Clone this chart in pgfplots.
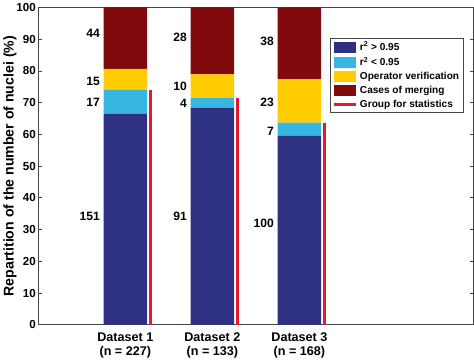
\documentclass[border=0pt]{standalone}
\usepackage{pgfplots}
\pgfplotsset{compat=1.18}
\usepackage{fontspec}
\setmainfont{Liberation Sans}
\definecolor{cdb}{RGB}{46,49,130}
\definecolor{clb}{RGB}{56,182,226}
\definecolor{cye}{RGB}{255,204,0}
\definecolor{cdr}{RGB}{128,10,12}
\definecolor{cred}{RGB}{228,25,45}
\definecolor{caxis}{RGB}{70,70,70}
\pgfplotsset{
  barleg/.style={legend image code/.code={\fill[##1] (0pt,-5.5pt) rectangle (22pt,5.5pt);}},
}
\begin{document}
\begin{tikzpicture}
\begin{axis}[
  scale only axis, width=432pt, height=315pt,
  xmin=0, xmax=5, ymin=0, ymax=100,
  ybar stacked, bar width=0.5,
  xtick={1,2,3},
  xticklabels={{Dataset 1\\(n = 227)},{Dataset 2\\(n = 133)},{Dataset 3\\(n = 168)}},
  xticklabel style={align=center, font=\bfseries\fontsize{12.5}{14}\selectfont, yshift=-4pt},
  x tick style={draw=none},
  ytick={0,10,...,100},
  ytick pos=both, yticklabel pos=left,
  tick align=inside, major tick length=4pt,
  y tick style={caxis, line width=0.8pt},
  yticklabel style={font=\bfseries\fontsize{11.5}{13}\selectfont, xshift=1pt},
  /pgf/number format/assume math mode=true,
  axis line style={caxis, line width=0.9pt},
  ylabel={Repartition of the number of nuclei (\%)},
  ylabel style={font=\bfseries\fontsize{14}{16}\selectfont, yshift=-7pt},
  legend style={at={(0.977,0.905)}, anchor=north east, draw=caxis, line width=0.8pt,
    font=\bfseries\fontsize{10}{12}\selectfont, row sep=1pt, inner sep=2pt,
    cells={anchor=west}},
]
\addplot[fill=cdb, draw=none, barleg] coordinates {(1,66.52) (2,68.42) (3,59.52)};
\addlegendentry{r\textsuperscript{2} > 0.95}
\addplot[fill=clb, draw=none, barleg] coordinates {(1,7.49) (2,3.01) (3,4.17)};
\addlegendentry{r\textsuperscript{2} < 0.95}
\addplot[fill=cye, draw=none, barleg] coordinates {(1,6.61) (2,7.52) (3,13.69)};
\addlegendentry{Operator verification}
\addplot[fill=cdr, draw=none, barleg] coordinates {(1,19.38) (2,21.05) (3,22.62)};
\addlegendentry{Cases of merging}
\addlegendimage{legend image code/.code={\draw[cred, line width=3pt] (0pt,0pt) -- (22pt,0pt);}}
\addlegendentry{Group for statistics}
\end{axis}
\begin{axis}[
  scale only axis, width=432pt, height=315pt,
  xmin=0, xmax=5, ymin=0, ymax=100, hide axis,
]
\addplot[ycomb, draw=cred, line width=3pt, mark=none] coordinates {(1.285,74.01) (2.285,71.43) (3.285,63.69)};
\addplot[draw=none, mark=none, nodes near coords, point meta=explicit symbolic,
  every node near coord/.append style={anchor=east, inner sep=1pt, text=black,
    font=\bfseries\fontsize{12}{14}\selectfont}]
  table[meta=lab] {
x y lab
0.72 34.3 151
0.72 70.2 17
0.72 76.8 15
0.72 92.0 44
1.72 34.3 91
1.72 69.8 4
1.72 75.0 10
1.72 90.5 28
2.72 32.0 100
2.72 61.0 7
2.72 70.2 23
2.72 89.2 38
};
\end{axis}
\end{tikzpicture}
\end{document}
